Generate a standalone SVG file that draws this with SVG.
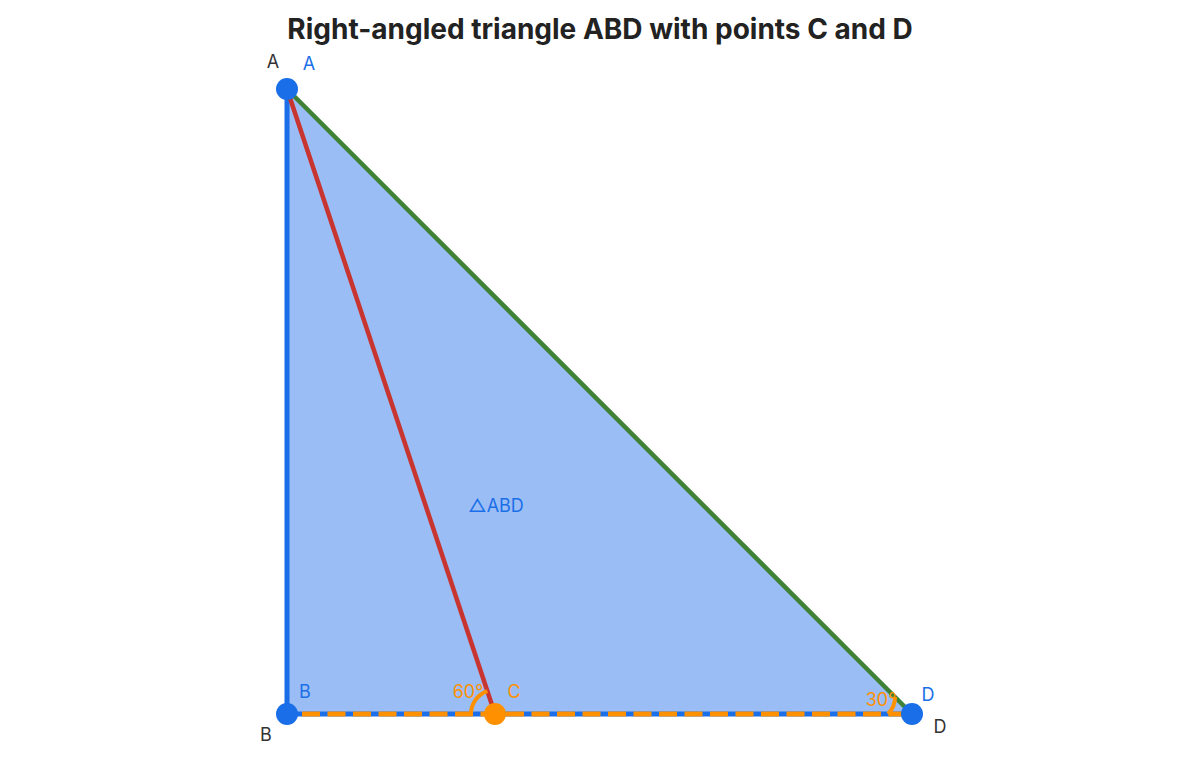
<svg xmlns="http://www.w3.org/2000/svg" width="1200" height="763" viewBox="0 0 1200 763">
<style>
.title{font-family:Inter,"Liberation Sans",sans-serif;font-weight:700;font-size:28px;fill:#222;}
.lbl{font-family:Inter,"Liberation Sans",sans-serif;font-size:18px;}
.dark{fill:#333;}
.blue{fill:#1a6fe8;}
.orange{fill:#ff9100;}
.pt{fill:#1a6fe8;}
</style>
<rect width="1200" height="763" fill="#fff"/>
<text class="title" x="600" y="39" text-anchor="middle">Right-angled triangle ABD with points C and D</text>
<g id="triangle">
<polygon points="287,89 287,714 912,714" fill="#9bbdf5"/>
<text class="lbl blue" x="496" y="512" text-anchor="middle">△ABD</text>
</g>
<g id="connectors" fill="none" stroke-linecap="butt">
<line id="AB" x1="287" y1="89" x2="287" y2="714" stroke="#1a6fe8" stroke-width="5"/>
<line id="BD" x1="287" y1="714" x2="912" y2="714" stroke="#1a6fe8" stroke-width="5"/>
<line id="BD-dash" x1="295" y1="714" x2="912" y2="714" stroke="#ff9100" stroke-width="5" stroke-dasharray="18 7.5" stroke-dashoffset="-7"/>
<line id="AC" x1="287" y1="89" x2="495" y2="714" stroke="#c8342f" stroke-width="4.5"/>
<line id="AD" x1="287" y1="89" x2="912" y2="714" stroke="#3f8236" stroke-width="4.5"/>
<path id="angleC" d="M471,714 A24,24 0 0 1 487.4,691.2" stroke="#ff9100" stroke-width="4"/>
<path id="angleD" d="M888,714 A24,24 0 0 0 895,697" stroke="#ff9100" stroke-width="4"/>
</g>
<g id="A">
<circle cx="287" cy="89" r="11" class="pt"/>
<text class="lbl dark" x="273" y="68" text-anchor="middle">A</text>
<text class="lbl blue" x="309" y="70" text-anchor="middle">A</text>
</g>
<g id="B">
<circle cx="287" cy="714" r="11" class="pt"/>
<text class="lbl blue" x="305" y="698" text-anchor="middle">B</text>
<text class="lbl dark" x="266" y="741" text-anchor="middle">B</text>
</g>
<g id="C">
<circle cx="495" cy="714" r="11" fill="#ff9100"/>
<text class="lbl orange" x="514" y="698" text-anchor="middle">C</text>
<text class="lbl orange" x="468" y="698" text-anchor="middle">60°</text>
</g>
<g id="D">
<circle cx="912" cy="714" r="11" class="pt"/>
<text class="lbl blue" x="928" y="701" text-anchor="middle">D</text>
<text class="lbl dark" x="940" y="733" text-anchor="middle">D</text>
<text class="lbl orange" x="881" y="706" text-anchor="middle">30°</text>
</g>
</svg>
